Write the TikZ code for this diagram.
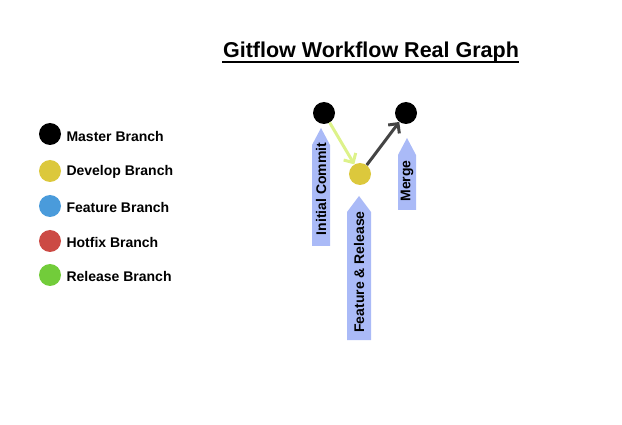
\documentclass[tikz,border=0pt]{standalone}
\usetikzlibrary{arrows.meta}
\usepackage{fontspec}
\setmainfont{Liberation Sans}
\usepackage{xcolor}
\definecolor{lab}{HTML}{AABAF7}
\definecolor{dev}{HTML}{DCC83C}
\definecolor{feat}{HTML}{4A9BDB}
\definecolor{hot}{HTML}{CC4A44}
\definecolor{rel}{HTML}{72CC3A}
\definecolor{arr1}{HTML}{DDF28A}
\definecolor{arr2}{HTML}{444444}
\begin{document}
\begin{tikzpicture}[x=1pt,y=-1pt,
  dot/.style={circle,minimum size=22pt,inner sep=0pt},
  legtext/.style={anchor=west,font=\bfseries\fontsize{14}{16}\selectfont},
  labtext/.style={rotate=90,font=\bfseries\fontsize{14}{16}\selectfont},
  tag/.style={fill=lab,draw=none},
  con/.style={line width=3pt,-{Straight Barb[length=7pt,width=14pt]}}]
\useasboundingbox (0,0) rectangle (622,425);
\node (title) at (371,52) {\bfseries\fontsize{21.5}{24}\selectfont Gitflow Workflow Real Graph};
\draw[line width=1.2pt] (222,62) -- (519,62);
% legend
\node[dot,fill=black] (l1) at (50,134) {};
\node[legtext] (t1) at (63,136) {Master Branch};
\node[dot,fill=dev] (l2) at (50,171) {};
\node[legtext] (t2) at (63,172) {Develop Branch};
\node[dot,fill=feat] (l3) at (50,206) {};
\node[legtext] (t3) at (63,207) {Feature Branch};
\node[dot,fill=hot] (l4) at (50,241) {};
\node[legtext] (t4) at (63,242) {Hotfix Branch};
\node[dot,fill=rel] (l5) at (50,275) {};
\node[legtext] (t5) at (63,276) {Release Branch};
% tags
\fill[tag] (312,246) -- (312,145) -- (321,128) -- (330,145) -- (330,246) -- cycle;
\node[labtext] (c1) at (321,189) {Initial Commit};
\fill[tag] (398,210) -- (398,155) -- (407,138) -- (416,155) -- (416,210) -- cycle;
\node[labtext] (c2) at (407,181) {Merge};
\fill[tag] (347,340) -- (347,212) -- (359,196) -- (371,212) -- (371,340) -- cycle;
\node[labtext] (c3) at (359,272) {Feature \& Release};
% graph
\node[dot,fill=black] (m1) at (324,113) {};
\node[dot,fill=black] (m2) at (406,113) {};
\node[dot,fill=dev] (d) at (360,174) {};
\draw[con,arr1] (m1) -- (d);
\draw[con,arr2] (d) -- (m2);
\end{tikzpicture}
\end{document}
